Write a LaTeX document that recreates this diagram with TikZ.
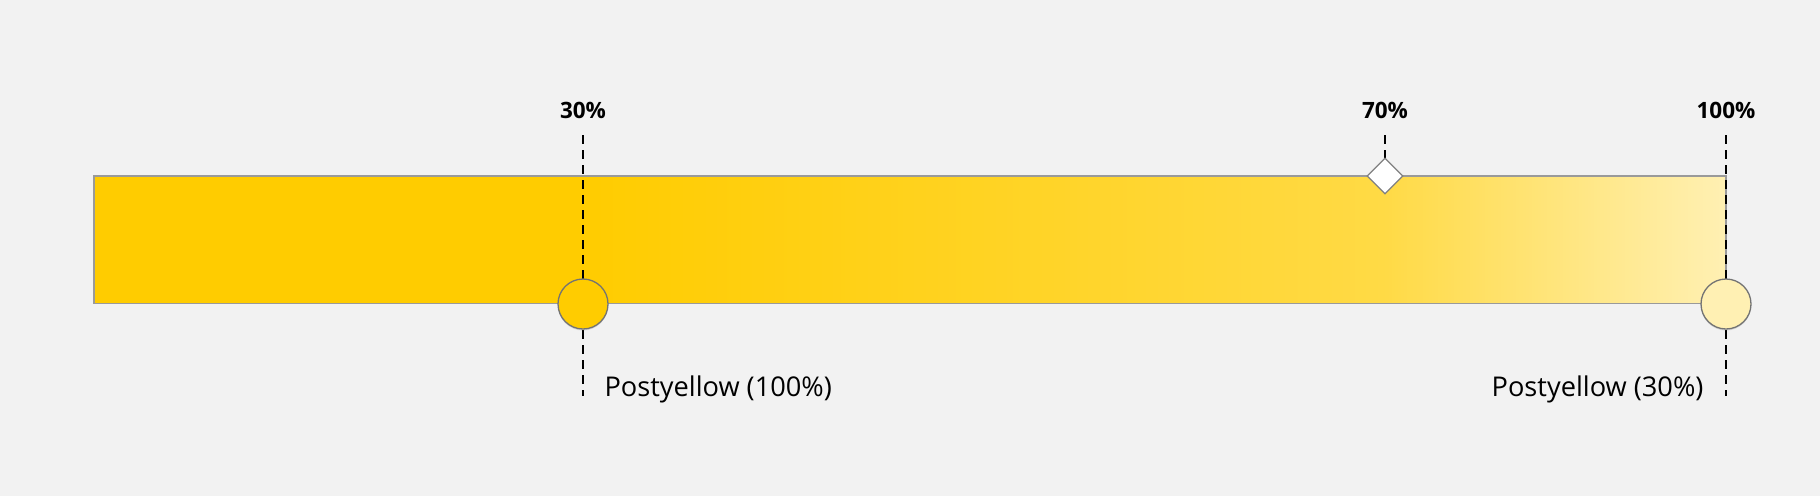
\documentclass[tikz,border=0pt]{standalone}
\usepackage{fontspec}
\setmainfont{Open Sans}
\usepackage{tikz}
\usetikzlibrary{shapes.geometric}
\usetikzlibrary{shadows}
\usetikzlibrary{positioning}

\definecolor{pbg}{HTML}{F2F2F2}
\definecolor{pyellow}{HTML}{FFCC00}
\definecolor{pmid}{HTML}{FFDA45}
\definecolor{plight}{HTML}{FFF0B3}
\definecolor{pframe}{HTML}{9A9A9A}

% bar runs 25bp..75bp of the shading
\pgfdeclarehorizontalshading{barshade}{100bp}{color(0bp)=(pyellow); color(40bp)=(pyellow); color(64.5bp)=(pmid); color(75bp)=(plight); color(100bp)=(plight)}

\tikzset{
  guide/.style={black, line width=1.6pt, dash pattern=on 9pt off 6pt},
  dot/.style={circle, draw=gray!90!black, line width=1.3pt, minimum size=50pt, inner sep=0pt,
              drop shadow={opacity=0.25, shadow xshift=0pt, shadow yshift=-1.5pt}},
  pct/.style={font=\bfseries\fontsize{22.5}{26}\selectfont, anchor=base},
  tint/.style={font=\fontsize{27.2}{31}\selectfont, anchor=base}
}

\begin{document}
\begin{tikzpicture}[x=1pt, y=-1pt]
  % --- Definitions ---
  \def\xa{94}    % left end of the bar
  \def\xb{583}   % 30% mark
  \def\xc{1385}  % 70% mark
  \def\xd{1726}  % 100% mark

  % --- 1. Canvas ---
  \fill[pbg] (0,0) rectangle (1820,496);
  \useasboundingbox (0,0) rectangle (1820,496);

  % --- 2. The bar ---
  \path[shading=barshade, draw=pframe, line width=1.3pt] (\xa,176) rectangle (\xd,303.5);

  % --- 3. Guide lines ---
  \coordinate (t30) at (\xb,135);
  \coordinate (b30) at (\xb,396);
  \coordinate (t70) at (\xc,135);
  \coordinate (t100) at (\xd,135);
  \coordinate (b100) at (\xd,396);

  \draw[guide] (t30) -- (b30);
  \draw[guide] (t70) -- (\xc,165);
  \draw[guide] (t100) -- (b100);

  % --- 4. Markers ---
  \node[diamond, draw=gray, line width=1.3pt, fill=white, minimum size=36pt, inner sep=0pt] (m70) at (\xc,176) {};
  \node[dot, fill=pyellow] (c30) at (\xb,304) {};
  \node[dot, fill=plight] (c100) at (\xd,304) {};

  % --- 5. Labels ---
  \node[pct] (l30) at (\xb,118) {30\%};
  \node[pct] (l70) at (\xc,118) {70\%};
  \node[pct] (l100) at (\xd,118) {100\%};

  \node[tint, anchor=base west] (n30) at (601,396) {Postyellow (100\%)};
  \node[tint, anchor=base east] (n100) at (1707,396) {Postyellow (30\%)};
\end{tikzpicture}
\end{document}
